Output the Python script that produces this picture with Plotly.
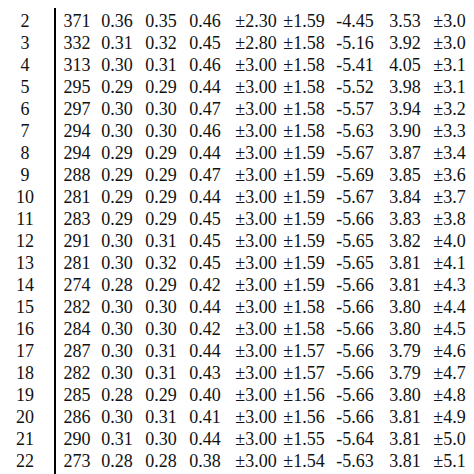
import plotly.graph_objects as go

rows = list(range(1, 23))
n_val = [448, 371, 332, 313, 295, 297, 294, 294, 288, 281, 283, 291, 281, 274, 282, 284, 287, 282, 285, 286, 290, 273]
c2 = ["0.41", "0.36", "0.31", "0.30", "0.29", "0.30", "0.30", "0.29", "0.29", "0.29", "0.29", "0.30", "0.30", "0.28", "0.30", "0.30", "0.30", "0.30", "0.28", "0.30", "0.31", "0.28"]
c3 = ["0.39", "0.35", "0.32", "0.31", "0.29", "0.30", "0.30", "0.29", "0.29", "0.29", "0.29", "0.31", "0.32", "0.29", "0.30", "0.30", "0.31", "0.31", "0.29", "0.31", "0.30", "0.28"]
c4 = ["0.37", "0.46", "0.45", "0.46", "0.44", "0.47", "0.46", "0.44", "0.47", "0.44", "0.45", "0.45", "0.45", "0.42", "0.44", "0.42", "0.44", "0.43", "0.40", "0.41", "0.44", "0.38"]
c5 = ["±1.20", "±2.30", "±2.80"] + ["±3.00"] * 19
c6 = ["±1.60", "±1.59", "±1.58", "±1.58", "±1.58", "±1.58", "±1.58", "±1.59", "±1.59", "±1.59", "±1.59", "±1.59", "±1.59", "±1.59", "±1.58", "±1.58", "±1.57", "±1.57", "±1.56", "±1.56", "±1.55", "±1.54"]
c7 = ["-3.14", "-4.45", "-5.16", "-5.41", "-5.52", "-5.57", "-5.63", "-5.67", "-5.69", "-5.67", "-5.66", "-5.65", "-5.65", "-5.66", "-5.66", "-5.66", "-5.66", "-5.66", "-5.66", "-5.66", "-5.64", "-5.63"]
c8 = ["2.63", "3.53", "3.92", "4.05", "3.98", "3.94", "3.90", "3.87", "3.85", "3.84", "3.83", "3.82", "3.81", "3.81", "3.80", "3.80", "3.79", "3.79", "3.80", "3.81", "3.81", "3.81"]
c9 = ["±3.10", "±3.01", "±3.08", "±3.15", "±3.17", "±3.24", "±3.33", "±3.48", "±3.61", "±3.76", "±3.89", "±4.02", "±4.16", "±4.30", "±4.45", "±4.56", "±4.66", "±4.77", "±4.88", "±4.96", "±5.06", "±5.14"]

columns = [[str(r) for r in rows], [str(v) for v in n_val], c2, c3, c4, c5, c6, c7, c8, c9]
col_x = [25, 77, 117, 161, 205, 256, 304, 355, 405, 454]

fig = go.Figure()
for cx, col in zip(col_x, columns):
    fig.add_trace(go.Scatter(
        x=[cx] * len(rows), y=rows, text=col, mode="text",
        textposition="middle center", cliponaxis=False,
        textfont=dict(family="Liberation Serif", size=18, color="#111"),
        hoverinfo="skip", showlegend=False,
    ))

fig.add_shape(type="line", xref="x", yref="paper", x0=55, x1=55, y0=-0.1, y1=1.1,
              line=dict(color="black", width=2))

# page puts the plot 8px in from the top-left, so shift ranges to compensate
fig.update_layout(
    width=474, height=474, margin=dict(l=0, r=0, t=0, b=0),
    plot_bgcolor="white", paper_bgcolor="white",
    xaxis=dict(range=[8, 482], visible=False),
    yaxis=dict(range=[22.874, 1.332], visible=False),
)
fig.write_html("out.html")
